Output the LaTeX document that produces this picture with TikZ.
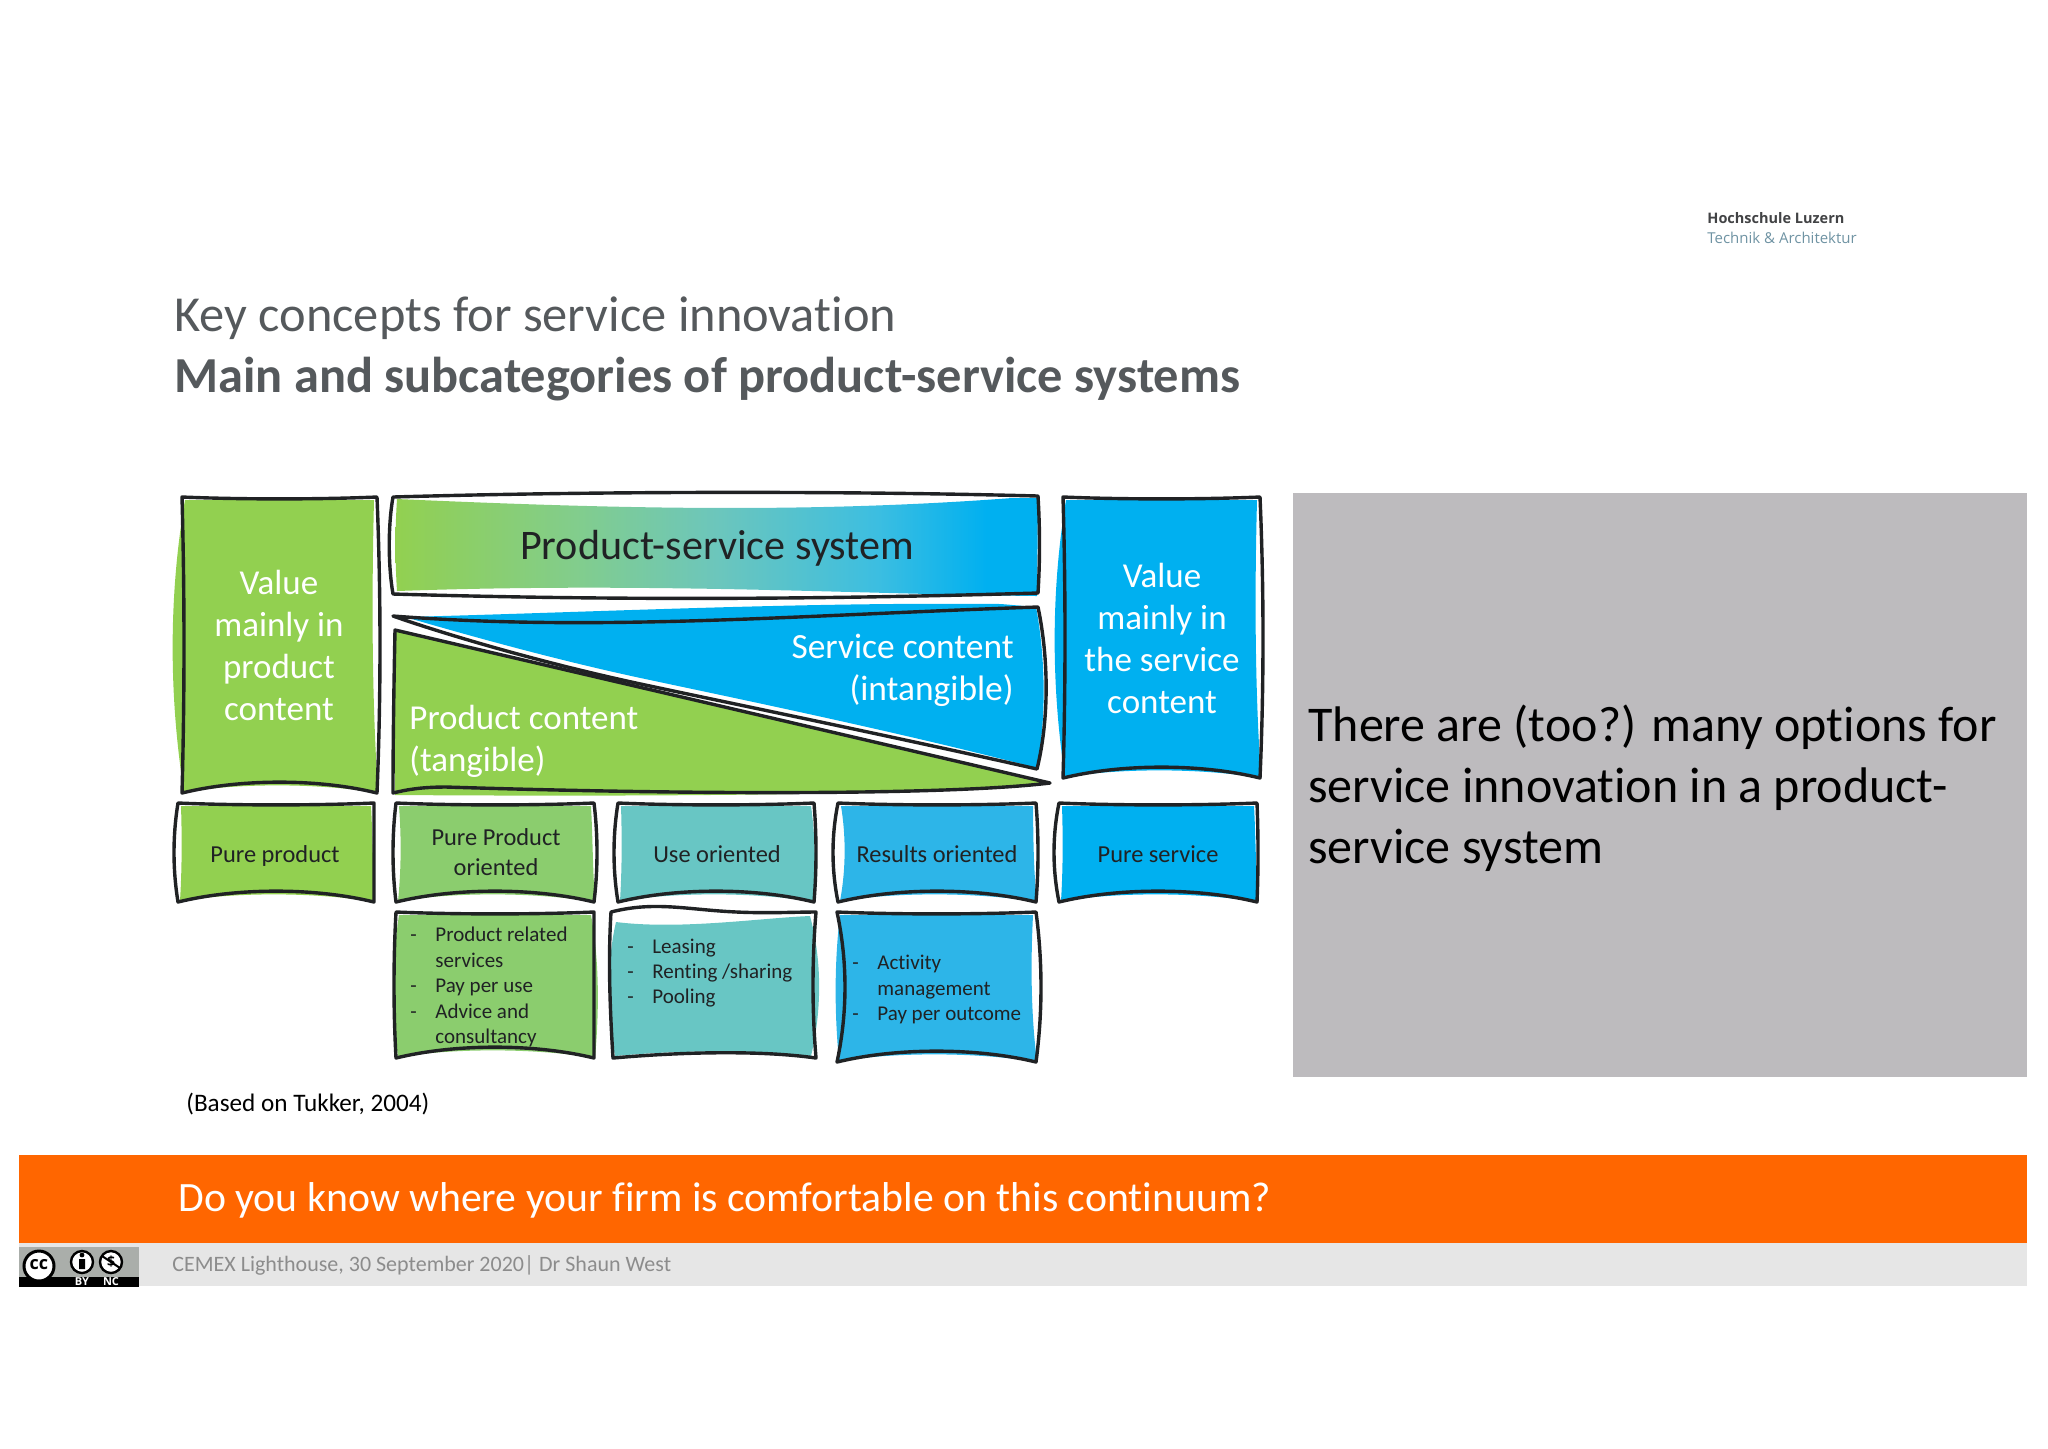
\documentclass[tikz,border=0pt]{standalone}
\usepackage{fontspec}
\setmainfont[Ligatures=CommonOff]{Carlito}
\newfontfamily\hslufont{Open Sans}
\usepackage{tikz}
\usepackage{xcolor}
\definecolor{pgreen}{RGB}{146,208,80}
\definecolor{pblue}{RGB}{0,176,240}
\definecolor{poteal}{RGB}{139,205,110}
\definecolor{useteal}{RGB}{104,198,196}
\definecolor{resblue}{RGB}{45,181,232}
\definecolor{greybox}{RGB}{189,187,190}
\definecolor{barorange}{RGB}{255,102,0}
\definecolor{footgrey}{RGB}{230,230,230}
\definecolor{titlegrey}{RGB}{85,89,92}
\definecolor{inkdark}{RGB}{32,34,36}
\definecolor{hsluslate}{RGB}{111,147,163}
\definecolor{badgegrey}{RGB}{170,174,170}
\definecolor{gradone}{RGB}{130,205,140}
\definecolor{gradtwo}{RGB}{108,198,188}
\definecolor{gradthree}{RGB}{60,190,225}
\pgfdeclarehorizontalshading{pssgrad}{100bp}{color(0bp)=(pgreen); color(25bp)=(pgreen); color(39bp)=(gradone); color(50bp)=(gradtwo); color(62.5bp)=(gradthree); color(71bp)=(pblue); color(100bp)=(pblue)}
\tikzstyle{skline} = [line width=1.7pt,line join=round,line cap=round,color=inkdark]
% sketched box: colour, left, top, right, bottom, outline bow left/right, fill bow left/right
\newcommand{\skbox}[9]{%
  \fill[#1] ({#2+3},{#3+3}) -- ({#4-3},{#3+3})
    .. controls ({#4+(#9-#4)*1.33},{#3+(#5-#3)*.33}) and ({#4+(#9-#4)*1.33},{#3+(#5-#3)*.67}) .. ({#4+1},{#5})
    .. controls ({#4-(#4-#2)*.3},{#5-10}) and ({#2+(#4-#2)*.3},{#5-10}) .. ({#2+2},{#5-1})
    .. controls ({#2+(#8-#2)*1.33},{#3+(#5-#3)*.67}) and ({#2+(#8-#2)*1.33},{#3+(#5-#3)*.33}) .. cycle;
  \draw[skline] (#2,#3) .. controls ({#2+(#4-#2)*.3},{#3+2.5}) and ({#2+(#4-#2)*.7},{#3+2.5}) .. (#4,#3)
    .. controls ({#4+(#7-#4)*1.33},{#3+(#5-#3)*.33}) and ({#4+(#7-#4)*1.33},{#3+(#5-#3)*.67}) .. (#4,#5)
    .. controls ({#4-(#4-#2)*.3},{#5-14.5}) and ({#2+(#4-#2)*.3},{#5-14.5}) .. (#2,#5)
    .. controls ({#2+(#6-#2)*1.33},{#3+(#5-#3)*.67}) and ({#2+(#6-#2)*1.33},{#3+(#5-#3)*.33}) .. cycle;
}
\newcommand{\listdash}{\makebox[12.5pt][l]{-}}
\newcommand{\listcont}{\hspace*{12.5pt}}
\begin{document}
\begin{tikzpicture}[
    x=0.5pt, y=-0.5pt,
    inner sep=0pt,
    valuetext/.style={white, align=center, font=\fontsize{17.5}{21}\selectfont},
    rowtext/.style={text=inkdark, align=center, font=\fontsize{12.2}{15}\selectfont},
    listtext/.style={text=inkdark, align=left, anchor=west, font=\fontsize{10.5}{12.7}\selectfont}
]
\useasboundingbox (0,0) rectangle (2048,1448);

% Slide header
\node (hslu) [anchor=base west, text=inkdark!85, font=\hslufont\fontsize{7.25}{9}\bfseries\selectfont] at (1707,223) {Hochschule Luzern};
\node (hsludept) [anchor=base west, text=hsluslate, font=\hslufont\fontsize{7.5}{9}\selectfont] at (1707,243) {Technik \& Architektur};
\node (title) [anchor=base west, text=titlegrey, font=\fontsize{25.2}{30}\selectfont] at (174,331) {Key concepts for service innovation};
\node (subtitle) [anchor=base west, text=titlegrey, font=\fontsize{25.2}{30}\bfseries\selectfont] at (174,392) {Main and subcategories of product-service systems};

% Grey panel
\fill[greybox] (1293,493) rectangle (2027,1077);
\node (panel) [anchor=west, align=left, font=\fontsize{25}{30.5}\selectfont] at (1308,788) {There are (too?) many options for\\service innovation in a product-\\service system};

% Top level
\skbox{pgreen}{182}{497}{377}{793}{184}{380}{172}{373}
\node (valueprod) [valuetext] at (279,645.5) {Value\\mainly in\\product\\content};
\skbox{pblue}{1063}{497}{1260}{778}{1065}{1263}{1054}{1256}
\node (valueserv) [valuetext] at (1162,638.5) {Value\\mainly in\\the service\\content};

% Product-service bar
\shade[shading=pssgrad]
  (397,499) .. controls (600,508) and (800,514) .. (1012,498) -- (1038,498) -- (1037,596)
  .. controls (850,594) and (650,582) .. (397,591) .. controls (395,560) and (395,530) .. cycle;
\draw[skline] (393,497) .. controls (600,491) and (850,491) .. (1038,496) .. controls (1040,530) and (1040,560) .. (1038,593)
  .. controls (800,600) and (600,600) .. (393,594) .. controls (388,565) and (388,525) .. cycle;
\node (psslabel) [text=inkdark, font=\fontsize{21.05}{25}\selectfont] at (717,548) {Product-service system};

% Content triangles
\fill[pblue] (405,617) .. controls (600,612) and (800,602) .. (1001,604) -- (1036,607) .. controls (1046,660) and (1046,720) .. (1037,768)
  .. controls (900,732) and (720,695) .. (650,680) .. controls (550,659) and (450,630) .. cycle;
\draw[skline] (393,616) .. controls (600,632) and (800,615) .. (1038,607) .. controls (1049,660) and (1049,720) .. (1037,769)
  .. controls (900,738) and (720,701) .. (650,686) .. controls (550,665) and (450,636) .. cycle;
\fill[pgreen] (395,630) -- (1050,783) .. controls (950,794) and (700,797) .. (395,795) -- cycle;
\draw[skline] (395,630) -- (1050,783) .. controls (950,795) and (700,795) .. (446,787) .. controls (420,787) and (405,790) .. (393,793) .. controls (393,740) and (394,680) .. cycle;
\node (servlabel) [anchor=east, white, align=right, font=\fontsize{17.7}{21}\selectfont] at (1014,670.5) {Service content\\(intangible)};
\node (prodlabel) [anchor=west, white, align=left, font=\fontsize{17.5}{21}\selectfont] at (409,741.5) {Product content\\(tangible)};

% Category row
\skbox{pgreen}{178}{803}{374}{902}{174}{374}{181}{373}
\skbox{poteal}{396}{803}{594}{902}{393}{597}{400}{593}
\skbox{useteal}{618}{803}{814}{902}{614}{816}{621}{815}
\skbox{resblue}{838}{803}{1036}{902}{833}{1038}{844}{1034}
\skbox{pblue}{1059}{803}{1257}{902}{1054}{1258}{1062}{1256}
\node (pureprod) [rowtext] at (275,856) {Pure product};
\node (pureprodor) [rowtext] at (496,852.5) {Pure Product\\oriented};
\node (useor) [rowtext] at (717,854) {Use oriented};
\node (resor) [rowtext] at (937,854) {Results oriented};
\node (pureserv) [rowtext] at (1158,854) {Pure service};

% Subcategory lists
\skbox{poteal}{396}{912}{594}{1058}{394}{594}{393}{598}
\fill[useteal] (616,922) .. controls (680,930) and (760,918) .. (810,916) .. controls (822,960) and (822,1010) .. (811,1056)
  .. controls (740,1050) and (680,1050) .. (615,1056) .. controls (607,1010) and (607,960) .. cycle;
\draw[skline] (611,912) .. controls (650,902) and (680,908) .. (720,911) .. controls (760,914) and (790,912) .. (816,912)
  .. controls (812,960) and (812,1010) .. (816,1058) .. controls (760,1050) and (680,1052) .. (613,1058) .. controls (610,1010) and (608,960) .. cycle;
\skbox{resblue}{837}{912}{1036}{1062}{845}{1041}{835}{1032}
\node (prodlist) [listtext] at (410,987) {\listdash Product related\\\listcont services\\\listdash Pay per use\\\listdash Advice and\\\listcont consultancy};
\node (uselist) [listtext] at (627,973) {\listdash Leasing\\\listdash Renting /sharing\\\listdash Pooling};
\node (reslist) [listtext] at (852,989.5) {\listdash Activity\\\listcont management\\\listdash Pay per outcome};
\node (source) [anchor=base west, font=\fontsize{12.6}{15}\selectfont] at (186,1111) {(Based on Tukker, 2004)};

% Footer bars
\fill[barorange] (19,1155) rectangle (2027,1243);
\fill[footgrey] (19,1243) rectangle (2027,1286);
\node (question) [anchor=base west, white, font=\fontsize{20.87}{24}\selectfont] at (178,1211) {Do you know where your firm is comfortable on this continuum?};
\node (footline) [anchor=base west, text=black!45, font=\fontsize{11}{13}\selectfont] at (172,1271) {CEMEX Lighthouse, 30 September 2020| Dr Shaun West};

% Licence badge
\fill[badgegrey] (19,1247) rectangle (139,1277);
\fill[black] (19,1277) rectangle (139,1287);
\draw[black, line width=1.5pt, fill=white] (39,1266) circle (15);
\node (ccmark) [font=\hslufont\fontsize{9}{9}\bfseries\selectfont] at (39,1265) {cc};
\draw[black, line width=1.2pt, fill=white] (82,1262) circle (11);
\fill[black] (82,1255) circle (2.4) (79,1259) rectangle (85,1269);
\draw[black, line width=1.2pt, fill=white] (111,1262) circle (11);
\node (ncmark) [font=\hslufont\fontsize{7}{7}\bfseries\selectfont] at (111,1262) {\$};
\draw[black, line width=1pt] (102,1256) -- (120,1268);
\node (bymark) [white, font=\hslufont\fontsize{5.5}{5.5}\bfseries\selectfont] at (82,1282) {BY};
\node (ncname) [white, font=\hslufont\fontsize{5.5}{5.5}\bfseries\selectfont] at (111,1282) {NC};
\end{tikzpicture}
\end{document}
